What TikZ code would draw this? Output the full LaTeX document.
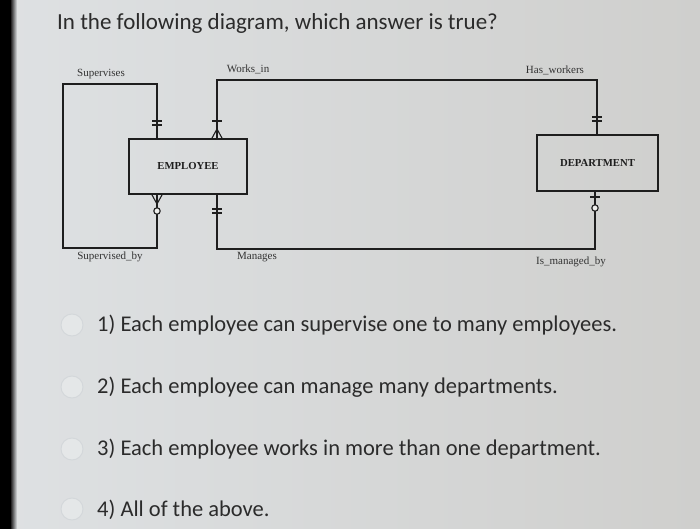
\documentclass[tikz,border=0pt]{standalone}
\usepackage{fontspec}
\setmainfont{Liberation Serif}
\newfontfamily\qfont{Carlito}
\definecolor{bgmid}{HTML}{EEEEEC}
\definecolor{bgleft}{HTML}{DEE1E3}
\definecolor{bgright}{HTML}{CFCFCD}
\definecolor{ink}{HTML}{1E1E1E}
\definecolor{qink}{HTML}{2B2B2B}
\definecolor{radioc}{HTML}{D3D7DA}
\begin{document}
\begin{tikzpicture}[x=1pt,y=-1pt,
  ent/.style={draw=ink, line width=1.3pt, inner sep=0pt, text=ink,
    font=\bfseries\fontsize{10.7}{12}\selectfont},
  conn/.style={draw=ink, line width=1.3pt},
  tick/.style={draw=ink, line width=1.1pt},
  rel/.style={font=\fontsize{11}{12}\selectfont, text=black!80, inner sep=0pt},
  ans/.style={font=\qfont\fontsize{22.5}{26}\selectfont, text=qink, anchor=base west, inner sep=0pt},
  radio/.style={draw=radioc, line width=0.9pt, fill=white, fill opacity=0.25}
]
% background
\useasboundingbox (0,0) rectangle (700,529);
\shade[left color=bgleft, middle color=bgmid, right color=bgright] (0,0) rectangle (700,529);
\fill[black] (0,0) rectangle (11,529);
\shade[left color=black!85, right color=bgleft] (11,0) rectangle (17,529);

% title
\node[anchor=base west, inner sep=0pt, text=qink, font=\qfont\fontsize{23}{27}\selectfont] (title) at (57,30)
  {In the following diagram, which answer is true?};

% entities
\node[ent, minimum width=118pt, minimum height=55pt] (emp) at (188,166.5) {EMPLOYEE};
\node[ent, minimum width=121pt, minimum height=56pt] (dept) at (597.5,163) {DEPARTMENT};

% corner coordinates
\coordinate (supTR) at (157,84);
\coordinate (supTL) at (63,84);
\coordinate (supBL) at (63,248);
\coordinate (supBR) at (157,248);
\coordinate (wTL) at (217,80);
\coordinate (wTR) at (597,80);
\coordinate (mBL) at (217,249);
\coordinate (mBR) at (595,249);

% connectors
\draw[conn] (emp.north -| supTR) -- (supTR) -- (supTL) -- (supBL) -- (supBR) -- (emp.south -| supBR);
\draw[conn] (emp.north -| wTL) -- (wTL) -- (wTR) -- (dept.north -| wTR);
\draw[conn] (emp.south -| mBL) -- (mBL) -- (mBR) -- (dept.south -| mBR);

% Supervises end: one and only one
\draw[tick] (152,121) -- (162,121) (152,125) -- (162,125);
% Supervised_by end: zero or many
\draw[tick] (151.5,194) -- (157,204) -- (162.5,194);
\draw[tick, fill=bgmid] (157,211) circle (3.2);
% Works_in end: one or many
\draw[tick] (211.5,139) -- (217,129) -- (222.5,139);
\draw[tick] (212,121) -- (222,121);
% Manages end: one and only one
\draw[tick] (212,209) -- (222,209) (212,213) -- (222,213);
% Has_workers end: one and only one
\draw[tick] (592,117) -- (602,117) (592,121) -- (602,121);
% Is_managed_by end: zero or one
\draw[tick] (590,197) -- (600,197);
\draw[tick, fill=bgmid] (595,208) circle (3.2);

% relationship labels
\node[rel] (lsup) at (101,74) {Supervises};
\node[rel] (lsupby) at (110,257) {Supervised\_by};
\node[rel] (lwork) at (248,69) {Works\_in};
\node[rel] (lman) at (257,257) {Manages};
\node[rel] (lhas) at (555,70) {Has\_workers};
\node[rel] (lismb) at (571,262) {Is\_managed\_by};

% answers
\draw[radio] (72,325) circle (11);
\draw[radio] (72,387) circle (11);
\draw[radio] (72,449) circle (11);
\draw[radio] (72,509) circle (11);
\node[ans] (a1) at (97,331) {1) Each employee can supervise one to many employees.};
\node[ans] (a2) at (97,393) {2) Each employee can manage many departments.};
\node[ans] (a3) at (97,455) {3) Each employee works in more than one department.};
\node[ans] (a4) at (97,516) {4) All of the above.};
\end{tikzpicture}
\end{document}
